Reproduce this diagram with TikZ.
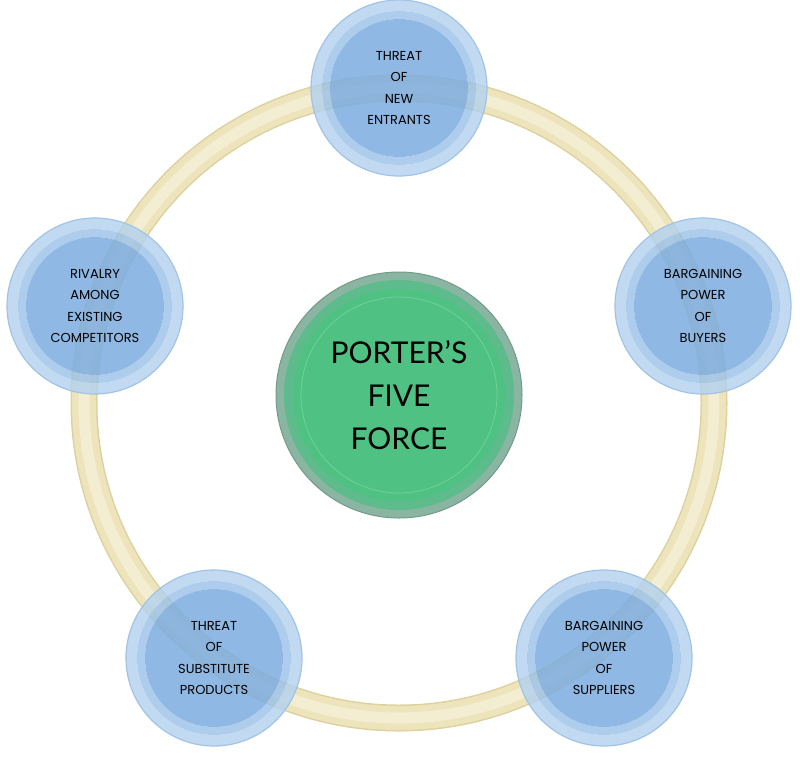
\documentclass[tikz,border=0pt]{standalone}
\usepackage{fontspec}
\setmainfont{Lato}
\newfontfamily\labfont{Poppins}
\definecolor{ringmain}{HTML}{EEE4BC}
\definecolor{ringedge}{HTML}{DDD1A0}
\definecolor{ringlight}{HTML}{F3EDD2}
\definecolor{satout}{HTML}{B3D1EE}
\definecolor{satedge}{HTML}{A2C3E4}
\definecolor{satmid}{HTML}{9CC1E8}
\definecolor{satin}{HTML}{7DACDF}
\definecolor{cenrim}{HTML}{8AB5A2}
\definecolor{cenmid}{HTML}{5DBB8C}
\definecolor{cenin}{HTML}{4FC183}
\definecolor{cenline}{HTML}{6ED19A}
\tikzset{
  sat/.style={circle, minimum size=176pt, inner sep=0pt, text opacity=1,
    draw=satedge, line width=1.2pt, align=center, font=\labfont\fontsize{13}{21.5}\selectfont,
    path picture={
      \fill[satout, fill opacity=0.82, even odd rule] (path picture bounding box.center) circle (89pt) (path picture bounding box.center) circle (77pt);
      \fill[satmid, fill opacity=0.82, even odd rule] (path picture bounding box.center) circle (77pt) (path picture bounding box.center) circle (69pt);
      \fill[satin, fill opacity=0.86] (path picture bounding box.center) circle (69pt);
    }},
  cen/.style={circle, minimum size=246pt, inner sep=0pt, fill=cenrim, draw=cenrim!85!black, line width=1pt,
    align=center, font=\fontsize{30}{43}\selectfont,
    path picture={
      \fill[cenmid] (path picture bounding box.center) circle (115pt);
      \fill[cenin] (path picture bounding box.center) circle (106pt);
      \draw[cenline, line width=0.8pt] (path picture bounding box.center) circle (98pt);
    }}
}
\begin{document}
\begin{tikzpicture}[x=1pt,y=-1pt]
\useasboundingbox (0,0) rectangle (800,758);
\coordinate (o) at (399,403);
% ring
\draw[ringedge, line width=27pt] (o) circle (315);
\draw[ringmain, line width=24pt] (o) circle (315);
\draw[ringlight, line width=11pt] (o) circle (315);
% centre
\node[cen] (core) at (399,395) {PORTER’S\\FIVE\\FORCE};
% satellites
\node[sat] (entrants) at (399,88) {THREAT\\OF\\NEW\\ENTRANTS};
\node[sat] (buyers) at (703,306) {BARGAINING\\POWER\\OF\\BUYERS};
\node[sat] (suppliers) at (604,658) {BARGAINING\\POWER\\OF\\SUPPLIERS};
\node[sat] (substitutes) at (214,658) {THREAT\\OF\\SUBSTITUTE\\PRODUCTS};
\node[sat] (rivalry) at (95,306) {RIVALRY\\AMONG\\EXISTING\\COMPETITORS};
\end{tikzpicture}
\end{document}
